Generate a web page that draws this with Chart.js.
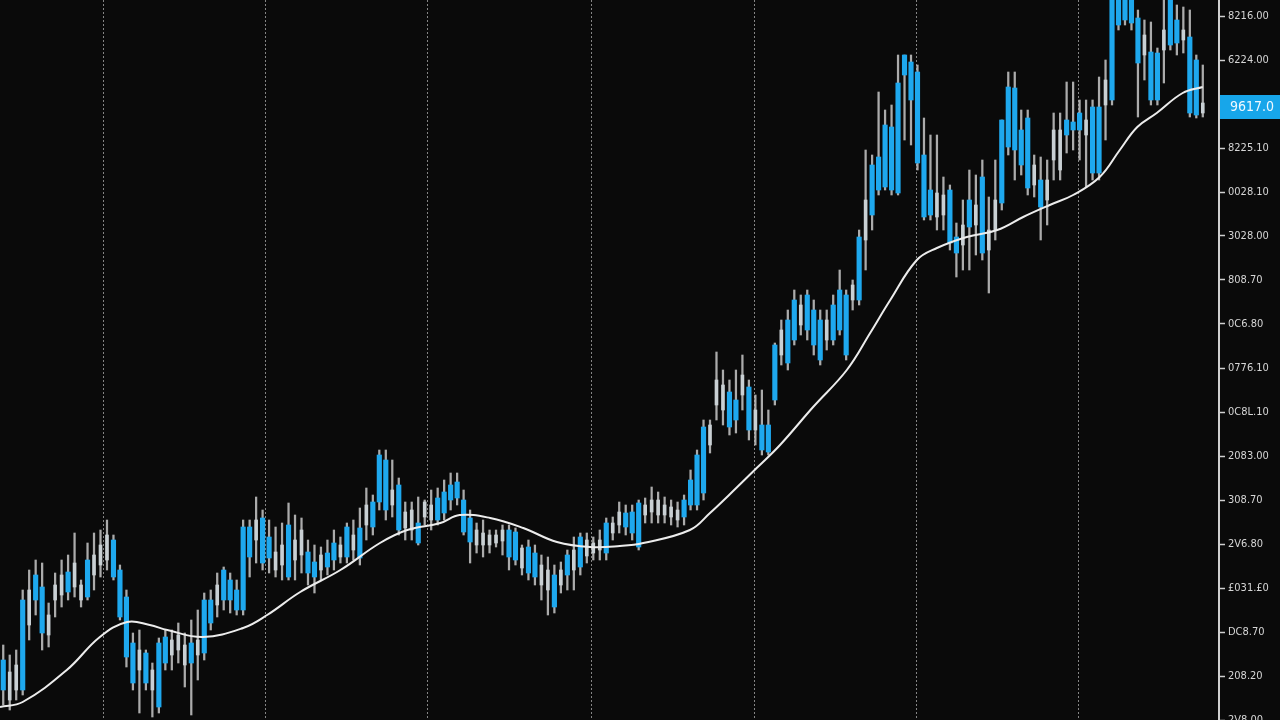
<!DOCTYPE html>
<html>
<head>
<meta charset="utf-8">
<script src="https://cdn.jsdelivr.net/npm/chart.js@4.4.1/dist/chart.umd.min.js"></script>
<style>
  html, body { margin: 0; padding: 0; background: #0a0a0a; overflow: hidden; }
  #wrap { width: 1280px; height: 720px; }
</style>
</head>
<body>
<div id="wrap"><canvas id="priceChart"></canvas></div>
<script>
// candle values, index 0 = leftmost candle
const open = [30,48,55,30,130,120,87,105,135,145, 128,157,135,123,165,175,185,143,103,63,
  37,70,37,50,13,57,80,85,75,57, 80,67,97,135,120,120,110,110,163,200,
  157,162,168,175,143,180,190,147,143,165, 153,160,175,163,185,162,215,193,218,210,
  230,190,208,210,177,218,215,200,207,220, 222,188,178,190,187,185,185,190,163,160,
  172,147,143,155,150,113,150,145,170,153, 180,177,180,167,197,208,193,187,173,215,
  220,220,215,213,210,203,215,215,227,295, 340,335,293,300,345,290,310,270,268,320,
  390,357,380,415,390,375,360,400,380,390, 365,435,420,520,505,530,533,530,527,645,
  620,557,503,505,527,525,477,467,495,493, 515,467,490,520,517,573,570,555,532,555,
  513,540,590,590,585,590,590,600,547,547, 640,620,695,700,697,657,685,620,620,690,
  675,677,690,607,605,617];
const close = [60,20,30,120,95,145,133,85,120,125, 148,133,120,160,145,155,160,180,150,123,
  77,50,67,30,77,83,65,70,55,77, 65,120,120,115,150,140,130,193,193,180,
  202,183,150,155,195,160,165,168,158,150, 167,177,163,193,170,192,195,218,265,260,
  215,235,192,190,197,203,200,222,228,235, 238,220,202,175,175,175,177,179,190,188,
  152,173,167,135,130,145,135,165,150,183, 164,167,170,197,187,195,207,208,217,205,
  208,205,205,203,200,220,240,265,293,275, 315,310,328,320,325,333,290,295,295,375,
  365,400,420,395,425,410,400,380,415,430, 425,420,483,480,555,563,595,593,637,665,
  658,648,565,530,503,505,530,483,475,520, 495,543,470,490,600,633,632,590,602,535,
  540,520,560,550,600,598,607,585,613,613, 615,720,720,720,720,702,665,668,667,670,
  720,700,680,683,660,607];
const high = [75,65,70,130,150,160,157,117,147,160, 165,187,140,177,187,190,200,185,155,130,
  87,90,70,57,82,90,90,97,87,100, 110,127,130,147,153,147,140,200,200,223,
  210,200,193,197,217,205,202,180,175,173, 180,190,183,197,200,212,232,225,270,270,
  260,242,218,218,223,220,230,232,240,247, 247,230,210,197,200,190,190,195,195,192,
  175,180,175,165,163,155,158,170,183,187, 187,183,190,202,203,218,215,215,220,222,
  233,228,223,220,218,225,250,270,300,300, 368,350,340,350,365,340,325,330,310,377,
  400,410,430,425,430,420,410,410,425,450, 430,440,490,570,565,628,610,615,665,665,
  665,655,602,585,585,543,535,497,520,550, 545,560,523,560,600,648,648,610,610,565,
  563,560,607,607,638,638,620,620,620,643, 660,730,730,730,730,710,700,698,672,720,
  730,715,713,710,665,655];
const low = [15,10,20,25,80,105,70,73,103,113, 120,123,113,120,130,143,150,140,100,53,
  30,7,30,3,7,50,50,57,33,5, 40,60,90,103,110,107,105,105,143,157,
  150,147,143,140,140,140,147,135,127,140, 145,150,157,157,160,155,180,185,210,200,
  203,185,180,180,175,195,190,195,200,210, 215,185,157,167,163,167,173,165,150,155,
  145,140,135,120,105,107,127,130,130,145, 157,160,160,160,180,187,185,180,170,197,
  197,197,197,195,193,195,210,210,220,267, 300,295,285,287,310,280,275,265,265,315,
  355,350,375,385,380,365,355,370,375,385, 360,410,415,450,490,525,530,525,525,580,
  575,550,500,500,490,490,470,443,450,450, 465,460,427,480,510,565,540,545,525,523,
  480,495,540,540,567,570,560,533,540,540, 580,615,690,695,690,603,640,615,615,637,
  670,665,667,603,602,603];

// moving average (candle index, value)
const maIndex = [-0.5,3,9.8,14.9,19.1,22.6,25.3,30.8,37,40.7,45.8,52,58.1,62.3,67.4,70.4,75.1,80.2,85.4,
  90.5,95.1,98.7,105.9,109,112.1,116.2,119.8,124.9,130.1,133.7,136.8,140.9,144,148.6,153.3,157.3,
  161.4,165,169.1,172.2,174.9,177.9,181.9,185];
const maValue = [13,18,50,83,98,95,90,83,92,105,128,150,177,190,197,205,202,192,178,
  173,174,177,190,207,226,252,275,313,350,387,420,460,472,483,490,503,
  515,525,543,570,593,607,627,633];

// vertical separators (candle index)
const gridAt = [15.5, 40.5, 65.5, 90.8, 115.8, 140.8, 165.9];

// right axis labels, bottom to top
const yTickLabels = ['2V8.00','208.20','DC8.70','£031.£0','2V6.80','308.70','2083.00','0C8L.10','0776.10',
  '0C6.80','808.70','3028.00','0028.10','8225.10','','6224.00','8216.00'];
const tickStep = 44;
const currentPrice = 613;
const currentPriceLabel = '9617.0';

const wicks = high.map((h, i) => ({ x: i, y: [low[i], h] }));
const upBodies = [];
const downBodies = [];
open.forEach((o, i) => {
    const c = close[i];
    if (c >= o) upBodies.push({ x: i, y: [o, c] });
    else downBodies.push({ x: i, y: [o, c] });
});
const maPoints = maIndex.map((x, i) => ({ x: x, y: maValue[i] }));

const priceTag = {
    id: 'priceTag',
    afterDraw(chart) {
        const y = chart.scales.y;
        const ctx = chart.ctx;
        const py = y.getPixelForValue(currentPrice);
        ctx.save();
        ctx.fillStyle = '#17a6ea';
        ctx.fillRect(y.left + 1, py - 12, chart.width - y.left, 24);
        ctx.fillStyle = '#eef8ff';
        ctx.font = '14px "DejaVu Sans Condensed", "DejaVu Sans", sans-serif';
        ctx.textBaseline = 'middle';
        ctx.fillText(currentPriceLabel, y.left + 11, py);
        ctx.restore();
    }
};

const ctx = document.getElementById('priceChart').getContext('2d');
const chart = new Chart(ctx, {
    type: 'bar',
    data: {
        datasets: [{
            type: 'line',
            data: maPoints,
            borderColor: '#ececec',
            borderWidth: 2,
            pointRadius: 0,
            tension: 0.4,
            order: 0
        }, {
            data: wicks,
            backgroundColor: 'rgba(200, 200, 200, 0.85)',
            barThickness: 1.6,
            grouped: false,
            order: 3
        }, {
            data: downBodies,
            backgroundColor: '#c9d0d4',
            barThickness: 3,
            grouped: false,
            order: 2
        }, {
            data: upBodies,
            backgroundColor: '#1ea8ee',
            barThickness: 4.5,
            grouped: false,
            order: 1
        }]
    },
    options: {
        responsive: true,
        maintainAspectRatio: false,
        animation: false,
        layout: { padding: 0 },
        plugins: {
            legend: { display: false },
            tooltip: { enabled: false }
        },
        scales: {
            x: {
                type: 'linear',
                min: -0.5,
                max: 187.5,
                offset: false,
                afterBuildTicks: (scale) => {
                    scale.ticks = gridAt.map(v => ({ value: v }));
                },
                ticks: { display: false },
                grid: {
                    offset: false,
                    color: 'rgba(200, 200, 200, 0.65)',
                    lineWidth: 1,
                    drawTicks: false
                },
                border: { display: false, dash: [2, 2] }
            },
            y: {
                position: 'right',
                min: 0,
                max: 720,
                afterFit: (scale) => {
                    scale.width = 61;
                    scale.paddingTop = 0;
                    scale.paddingBottom = 0;
                },
                ticks: {
                    stepSize: tickStep,
                    includeBounds: false,
                    autoSkip: false,
                    padding: 3,
                    color: '#d6d6d6',
                    font: { family: '"DejaVu Sans Condensed", "DejaVu Sans", sans-serif', size: 11 },
                    callback: (value) => yTickLabels[Math.round(value / tickStep)]
                },
                grid: {
                    drawOnChartArea: false,
                    drawTicks: true,
                    tickLength: 6,
                    tickColor: '#cfcfcf',
                    tickWidth: 1.5
                },
                border: { display: true, color: '#cfcfcf', width: 2 }
            }
        }
    },
    plugins: [priceTag]
});
</script>
</body>
</html>
